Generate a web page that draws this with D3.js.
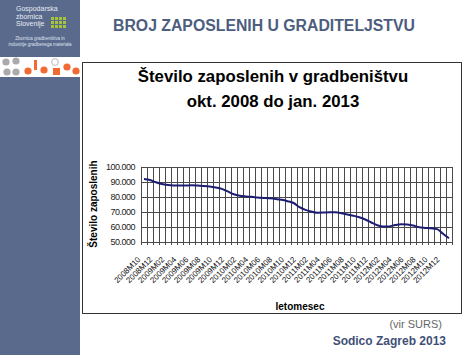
<!DOCTYPE html>
<html>
<head>
    <script src="https://cdn.jsdelivr.net/npm/d3@7/dist/d3.min.js"></script>
</head>
<body style="margin:0">
    <style type="text/css">
        body { font-family: "Liberation Sans", Arial, sans-serif; }
        .grid line { stroke: #4a4a4a; stroke-width: 1; shape-rendering: crispEdges; }
        .axis text { font-size: 9px; fill: #222; }
        .axis path, .axis line { display: none; }
        .xlab { font-size: 8px; fill: #111; }
        .line { fill: none; stroke: #1c1c72; stroke-width: 2; }
    </style>
    <svg id="chart" width="474" height="355"></svg>
    <script>
        // months 2008M10 .. 2013M01
        var months = ["2008M10", "2008M11", "2008M12",
            "2009M01", "2009M02", "2009M03", "2009M04", "2009M05", "2009M06", "2009M07", "2009M08", "2009M09", "2009M10", "2009M11", "2009M12",
            "2010M01", "2010M02", "2010M03", "2010M04", "2010M05", "2010M06", "2010M07", "2010M08", "2010M09", "2010M10", "2010M11", "2010M12",
            "2011M01", "2011M02", "2011M03", "2011M04", "2011M05", "2011M06", "2011M07", "2011M08", "2011M09", "2011M10", "2011M11", "2011M12",
            "2012M01", "2012M02", "2012M03", "2012M04", "2012M05", "2012M06", "2012M07", "2012M08", "2012M09", "2012M10", "2012M11", "2012M12",
            "2013M01"
        ];
        var employed = [92000, 91300, 89800,
            88600, 88000, 87700, 87600, 87700, 87800, 87600, 87400, 87000, 86300, 85400, 83700,
            81800, 80800, 80400, 80100, 79700, 79400, 79100, 78700, 78100, 77200, 76000, 73200,
            71400, 70300, 69500, 69600, 69900, 69800, 69200, 68300, 67500, 66500, 65000, 63000,
            61200, 60300, 60400, 61300, 61800, 61600, 61000, 59800, 59400, 59100, 58600, 55500,
            52500
        ];
        var yTicks = [50000, 60000, 70000, 80000, 90000, 100000];
        var tickLabels = months.filter(function(d, i) { return i % 2 === 0; });

        var svg = d3.select("#chart");
        svg.append("rect").attr("width", 474).attr("height", 355).attr("fill", "#fff");

        // left sidebar
        var side = svg.append("g");
        side.append("rect").attr("x", 0).attr("y", 0).attr("width", 80).attr("height", 355).attr("fill", "#5a6a8c");
        side.append("rect").attr("x", 0).attr("y", 57).attr("width", 80).attr("height", 20).attr("fill", "#fff");
        ["Gospodarska", "zbornica", "Slovenije"].forEach(function(t, i) {
            side.append("text").attr("x", 16).attr("y", 11 + i * 7.5).attr("font-size", 7).attr("fill", "#e8ecf4").text(t);
        });
        d3.range(12).forEach(function(k) {
            side.append("rect").attr("x", 51 + (k % 4) * 4).attr("y", 17 + Math.floor(k / 4) * 4)
                .attr("width", 3).attr("height", 3).attr("fill", "#a6c43a");
        });
        side.append("text").attr("x", 40).attr("y", 40).attr("font-size", 4.5).attr("text-anchor", "middle").attr("fill", "#dfe4ee").text("Zbornica gradbeništva in");
        side.append("text").attr("x", 40).attr("y", 46).attr("font-size", 4.5).attr("text-anchor", "middle").attr("fill", "#dfe4ee").text("industrije gradbenega materiala");
        [[6, 62, "#aaa"], [16, 61, "#aaa"], [7, 72, "#aaa"], [16, 72, "#aaa"], [28, 71, "#f06a33"], [44, 70, "#f06a33"], [67, 67, "#f06a33"], [76, 71, "#f06a33"]]
        .forEach(function(c) {
            side.append("circle").attr("cx", c[0]).attr("cy", c[1]).attr("r", 3.6).attr("fill", c[2]);
        });
        side.append("circle").attr("cx", 55).attr("cy", 62).attr("r", 3.4).attr("fill", "#fff").attr("stroke", "#bbb");
        side.append("rect").attr("x", 53).attr("y", 68).attr("width", 7).attr("height", 7).attr("fill", "#f06a33");
        side.append("rect").attr("x", 34).attr("y", 60).attr("width", 3).attr("height", 10).attr("fill", "#f06a33");

        // header
        svg.append("text").attr("x", 264).attr("y", 31).attr("text-anchor", "middle")
            .attr("font-size", 15.8).attr("font-weight", "bold").attr("fill", "#4d5d7e")
            .text("BROJ ZAPOSLENIH U GRADITELJSTVU");

        // chart box
        svg.append("rect").attr("x", 82.5).attr("y", 62.5).attr("width", 379).attr("height", 251)
            .attr("fill", "#fff").attr("stroke", "#333").attr("stroke-width", 1);

        svg.append("text").attr("x", 273).attr("y", 82).attr("text-anchor", "middle")
            .attr("font-size", 16.8).attr("font-weight", "bold").text("Število zaposlenih v gradbeništvu");
        svg.append("text").attr("x", 273).attr("y", 107).attr("text-anchor", "middle")
            .attr("font-size", 16.8).attr("font-weight", "bold").text("okt. 2008 do jan. 2013");

        var x = d3.scaleBand()
            .domain(months)
            .range([141, 452])
            .padding(0);
        var y = d3.scaleLinear()
            .domain([50000, 100000])
            .range([242, 167]);

        var loc = d3.formatLocale({ decimal: ",", thousands: ".", grouping: [3], currency: ["", ""] });

        // gridlines
        var grid = svg.append("g").attr("class", "grid");
        grid.selectAll(".h").data(yTicks).enter().append("line")
            .attr("x1", x.range()[0]).attr("x2", x.range()[1])
            .attr("y1", function(d) { return Math.round(y(d)) + 0.5; })
            .attr("y2", function(d) { return Math.round(y(d)) + 0.5; });
        grid.selectAll(".v").data(months.concat(["end"])).enter().append("line")
            .attr("x1", function(d) { return d === "end" ? x.range()[1] : Math.round(x(d)) + 0.5; })
            .attr("x2", function(d) { return d === "end" ? x.range()[1] : Math.round(x(d)) + 0.5; })
            .attr("y1", y(100000)).attr("y2", y(50000) + 3);

        // y axis
        var yAxis = d3.axisLeft(y)
            .tickValues(yTicks)
            .tickFormat(function(d) { return loc.format(",")(d / 1000) + ".000"; });
        svg.append("g")
            .attr("class", "axis")
            .attr("transform", "translate(" + (x.range()[0] + 3) + ",0)")
            .call(yAxis)
            .selectAll("text")
            .attr("letter-spacing", "-0.5px");

        // x labels
        svg.append("g").selectAll("text")
            .data(tickLabels)
            .enter()
            .append("text")
            .attr("class", "xlab")
            .attr("text-anchor", "end")
            .attr("transform", function(d) {
                return "translate(" + (x(d) + x.bandwidth() / 2 - 3) + ",260) rotate(-45)";
            })
            .text(function(d) { return d; });

        // line
        var line = d3.line()
            .x(function(d, i) { return x(months[i]) + x.bandwidth() / 2; })
            .y(function(d) { return y(d); })
            .curve(d3.curveMonotoneX);
        svg.append("path")
            .datum(employed)
            .attr("class", "line")
            .attr("d", line);

        // axis titles
        svg.append("text")
            .attr("transform", "translate(97,204) rotate(-90)")
            .attr("text-anchor", "middle")
            .attr("font-size", 10).attr("font-weight", "bold")
            .text("Število zaposlenih");
        svg.append("text")
            .attr("x", 300).attr("y", 310)
            .attr("text-anchor", "middle")
            .attr("font-size", 10).attr("font-weight", "bold")
            .text("letomesec");

        // source
        svg.append("text").attr("x", 442).attr("y", 328).attr("text-anchor", "end")
            .attr("font-size", 11).attr("fill", "#666").text("(vir SURS)");
        svg.append("text").attr("x", 446).attr("y", 345).attr("text-anchor", "end")
            .attr("font-size", 12).attr("font-weight", "bold").attr("fill", "#3f5078").text("Sodico Zagreb 2013");
    </script>
</body>
</html>
